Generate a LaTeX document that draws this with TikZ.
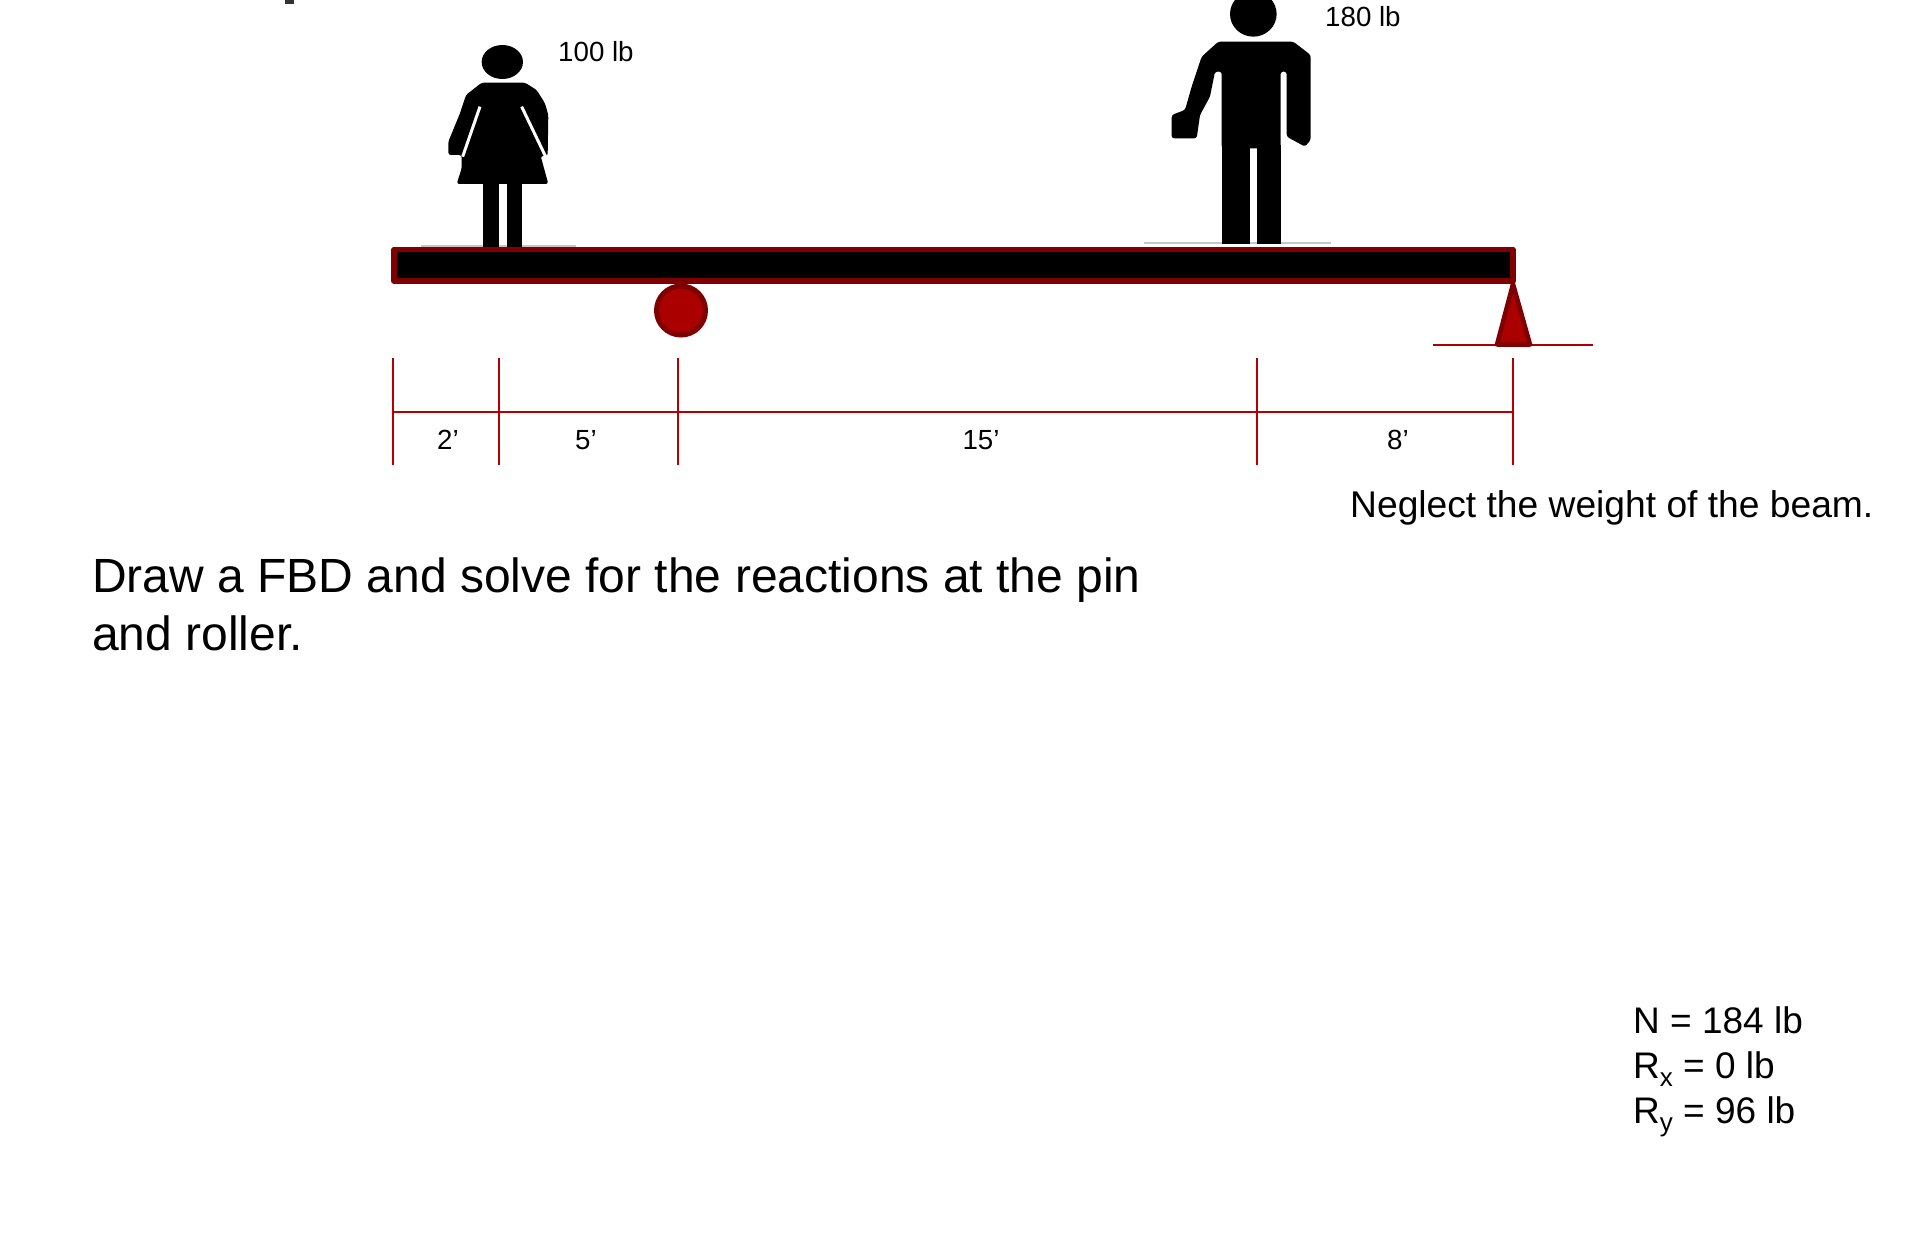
\documentclass[tikz,border=0pt]{standalone}
\usepackage{fontspec}
\setmainfont{Liberation Sans}
\definecolor{beamred}{HTML}{7F0000}
\definecolor{fillred}{HTML}{AA0000}
\definecolor{dimred}{HTML}{B40000}
\newcommand{\lowsub}[1]{\raisebox{-8pt}{\fontsize{26}{30}\selectfont #1}}
\tikzset{
  dimline/.style={draw=dimred,line width=2pt},
  groundline/.style={draw=fillred,line width=2pt},
  memberred/.style={draw=beamred,line width=5.5pt,line join=round},
  small/.style={inner sep=0pt,anchor=base,font=\fontsize{27.7}{33}\selectfont},
  note/.style={inner sep=0pt,anchor=base west,align=left},
  figure/.style={fill=black,draw=none,rounded corners=2.5pt},
  slit/.style={draw=white,line width=3pt},
  floorline/.style={draw=black!22,line width=1.2pt},
}
\begin{document}
\begin{tikzpicture}[x=1pt,y=-1pt]
\useasboundingbox (0,0) rectangle (1910,1242);
\clip (0,0) rectangle (1910,1242);
% woman
\begin{scope}[shift={(380,0)},x=0.3333pt,y=-0.3333pt]
  \draw[floorline] (123,738) -- (588,738);
  \fill[black] (367,186) ellipse [x radius=62,y radius=51];
  \fill[figure] (305,248) -- (435,248) -- (470,270) -- (495,310) -- (505,345) -- (503,468) -- (482,468) -- (505,552) -- (230,552) -- (245,505) -- (245,465) -- (205,465) -- (205,425) -- (240,340) -- (258,285) -- cycle;
  \draw[slit] (300,320) -- (248,470);
  \draw[slit] (425,320) -- (497,470);
  \fill[black] (308,548) rectangle (358,742);
  \fill[black] (380,548) rectangle (427,742);
\end{scope}
% man
\begin{scope}[shift={(1120,0)},x=0.3333pt,y=-0.3333pt]
  \draw[floorline] (72,729) -- (632,729);
  \fill[black] (400,42) ellipse [x radius=70,y radius=68];
  \fill[figure] (295,125) -- (520,125) -- (572,165) -- (572,420) -- (555,440) -- (500,410) -- (500,215) -- (482,215) -- (482,445) -- (305,445) -- (305,215) -- (285,215) -- (270,290) -- (240,345) -- (230,415) -- (155,415) -- (155,345) -- (195,330) -- (215,260) -- (235,200) -- (245,170) -- cycle;
  \fill[black] (305,435) rectangle (390,731);
  \fill[black] (412,435) rectangle (482,731);
\end{scope}
% clipped fragment at the top edge
\fill[black!80] (285,0) rectangle (294,4);
% beam and supports
\draw[memberred,fill=black] (394,249.5) rectangle (1513,281);
\node[circle,minimum size=49pt,inner sep=0pt,draw=beamred,line width=5pt,fill=fillred] (roller) at (681,310.5) {};
\draw[groundline] (1433,345) -- (1593,345);
\draw[draw=beamred,line width=4.5pt,line join=round,fill=fillred] (1513,284) -- (1530,344.5) -- (1497,344.5) -- cycle;
% dimensions
\coordinate (d0t) at (393,358); \coordinate (d0b) at (393,465);
\coordinate (d1t) at (498.5,358); \coordinate (d1b) at (498.5,465);
\coordinate (d2t) at (678,358); \coordinate (d2b) at (678,465);
\coordinate (d3t) at (1257,358); \coordinate (d3b) at (1257,465);
\coordinate (d4t) at (1513,358); \coordinate (d4b) at (1513,465);
\coordinate (dl) at (393,411.5); \coordinate (dr) at (1513,411.5);
\draw[dimline] (d0t) -- (d0b);
\draw[dimline] (d1t) -- (d1b);
\draw[dimline] (d2t) -- (d2b);
\draw[dimline] (d3t) -- (d3b);
\draw[dimline] (d4t) -- (d4b);
\draw[dimline] (dl) -- (dr);
% labels
\node[small,anchor=base west] (w1) at (558,61) {100 lb};
\node[small,anchor=base west] (w2) at (1325,27) {180 lb};
\node[small] (l1) at (448,449) {2’};
\node[small] (l2) at (586,449) {5’};
\node[small] (l3) at (981,449) {15’};
\node[small] (l4) at (1398,449) {8’};
\node[note,font=\fontsize{37.2}{45}\selectfont] (neglect) at (1350,517) {Neglect the weight of the beam.};
\node[note,font=\fontsize{48}{57}\selectfont] (task1) at (92,592) {Draw a FBD and solve for the reactions at the pin};
\node[note,font=\fontsize{48}{57}\selectfont] (task2) at (92,650) {and roller.};
\node[note,font=\fontsize{37}{45}\selectfont] (ans1) at (1633,1033) {N = 184 lb};
\node[note,font=\fontsize{37}{45}\selectfont] (ans2) at (1633,1078) {R\lowsub{x} = 0 lb};
\node[note,font=\fontsize{37}{45}\selectfont] (ans3) at (1633,1123) {R\lowsub{y} = 96 lb};
\end{tikzpicture}
\end{document}
